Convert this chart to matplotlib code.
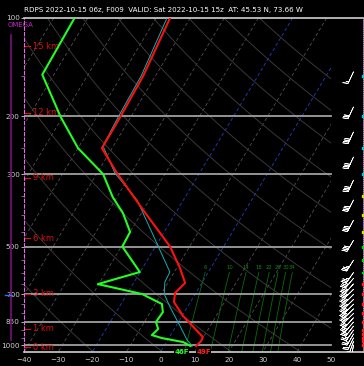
import numpy as np
import matplotlib
matplotlib.use("Agg")
import matplotlib.pyplot as plt
from matplotlib.patches import Rectangle

# sounding (hPa, degC)
temp_p = [100, 150, 200, 250, 298, 386, 500, 582, 646, 693, 739, 815, 945, 972, 1007]
temp_c = [-55.9, -53.6, -53.1, -53.0, -44.2, -30.1, -15.7, -9.0, -4.9, -6.1, -4.8, 0.3, 9.8, 10.0, 9.4]

wetb_p = [100, 150, 200, 246, 298, 360, 488, 598, 642, 698, 765, 875, 965, 1007]
wetb_c = [-56.8, -54.2, -53.7, -53.1, -44.8, -33.6, -20.2, -11.3, -11.0, -9.1, -5.1, 1.2, 5.7, 8.3]

dewp_p = [100, 149, 201, 250, 300, 353, 395, 451, 500, 598, 651, 698, 749, 793, 850, 893, 932, 952, 979, 1007]
dewp_c = [-83.9, -83.4, -70.5, -60.0, -48.1, -41.2, -35.4, -30.0, -29.7, -20.1, -30.3, -15.6, -8.0, -6.3, -6.6, -4.7, -5.5, -2.0, 4.9, 7.8]

wind_p = [146, 187, 223, 266, 313, 360, 415, 478, 550, 600, 625, 650, 675, 700, 725, 750,
          775, 800, 825, 850, 875, 900, 925, 950, 975, 1000]
wind_dir = [205, 205, 205, 205, 205, 207, 208, 210, 212, 215, 220, 222, 225, 225, 225, 225,
            225, 225, 222, 220, 218, 215, 210, 205, 200, 190]
wind_kt = [15, 30, 40, 40, 40, 40, 40, 40, 35, 35, 35, 35, 35, 35, 35, 35,
           35, 35, 30, 30, 30, 25, 25, 20, 15, 10]

dot_p = [150, 200, 250, 300, 350, 400, 450, 500, 550, 600, 650, 700, 750, 800, 850, 900, 925, 950, 975, 1000]
dot_col = ['#00d0d0'] * 4 + ['#e0e000'] * 3 + ['#00e000'] * 3 + ['#ff2020'] * 10

isobars = [200, 300, 500, 700, 850, 1000]
p_labels = [100, 200, 300, 500, 700, 850, 1000]
hgt_km = [0, 1, 3, 6, 9, 12, 15]
hgt_p = [1014, 893, 698, 471, 308, 195, 122]
mix_w = [6, 10, 14, 18, 22, 26, 30, 34]
t_ticks = [-40, -30, -20, -10, 0, 10, 20, 30, 40, 50]

SKEW = 57.5
PBOT = 1050.0


def skew(t, p):
    return np.asarray(t, float) + SKEW * np.log10(PBOT / np.asarray(p, float))


fig = plt.figure(figsize=(3.64, 3.66), dpi=100, facecolor='black')
ax = fig.add_axes([24/364, 14/366, 339/364, 334/366])
ax.set_facecolor('black')
ax.set_yscale('log')
ax.set_ylim(PBOT, 100)
ax.set_xlim(-40, 59.38)

clip = Rectangle((-40, 100), 90, 950, transform=ax.transData, fill=False, visible=False)
ax.add_patch(clip)

pp = np.geomspace(100, PBOT, 120)

# isotherms
for t in range(-110, 60, 10):
    col = '#2040c0' if t in (0, -20) else '#505050'
    ln, = ax.plot(skew(np.full_like(pp, t), pp), pp, color=col, lw=0.6, ls=(0, (4, 3)))
    ln.set_clip_path(clip)

# dry adiabats
for th in range(230, 480, 20):
    tk = th * (pp / 1000.0) ** 0.2857 - 273.15
    ln, = ax.plot(skew(tk, pp), pp, color='#383838', lw=0.7)
    ln.set_clip_path(clip)

# mixing ratio lines
pm = np.geomspace(600, PBOT, 30)
for w in mix_w:
    e = w * pm / (622.0 + w)
    a = np.log(e / 6.112)
    td = 243.5 * a / (17.67 - a)
    ax.plot(skew(td, pm), pm, color='#0a6a0a', lw=0.6)
    ax.text(skew(td[0], 600), 588, str(w), color='#0a8a0a', fontsize=3.8,
            ha='center', va='bottom')

for p in isobars:
    ax.plot([-40, 50], [p, p], color='#a0a0a0', lw=1.3)

ax.plot(skew(temp_c, temp_p), temp_p, color='#ff1010', lw=1.5, zorder=6)
ax.plot(skew(wetb_c, wetb_p), wetb_p, color='#10b0b0', lw=0.7, zorder=5)
ax.plot(skew(dewp_c, dewp_p), dewp_p, color='#20ff20', lw=1.5, zorder=6)

# height labels
for km, p in zip(hgt_km, hgt_p):
    ax.plot([-40, -38.2], [p, p], color='#e01010', lw=0.8, clip_on=False)
    ax.text(-37.4, p, f'{km} km', color='#e01010', fontsize=6, va='center', ha='left')

# wind barbs
wd = np.radians(wind_dir)
u = -np.array(wind_kt) * np.sin(wd)
v = -np.array(wind_kt) * np.cos(wd)
ax.barbs(np.full(len(wind_p), 56.6), wind_p, u, v, length=4.3, color='white',
         linewidth=0.5, pivot='tip', zorder=7)
ax.scatter(np.full(len(dot_p), 59.3), dot_p, s=2, c=dot_col, marker='s', zorder=8, clip_on=False)

# axes styling
for s in ['top', 'bottom']:
    ax.spines[s].set_color('#d0d0d0')
    ax.spines[s].set_linewidth(1.2)
ax.spines['left'].set_color('#e070e0')
ax.spines['left'].set_linestyle((0, (3, 2)))
ax.spines['left'].set_linewidth(0.8)
ax.spines['right'].set_color('#e0a0e0')
ax.spines['right'].set_linestyle((0, (1, 1.5)))
ax.spines['right'].set_linewidth(0.6)

ax.set_yticks(p_labels)
ax.set_yticklabels([str(p) for p in p_labels])
ax.set_yticks(range(150, 1050, 50), minor=True)
ax.yaxis.set_minor_formatter(plt.NullFormatter())
ax.tick_params(axis='y', which='major', colors='#d0d0d0', labelsize=5.2, length=2, width=0.6, pad=1)
ax.tick_params(axis='y', which='minor', colors='#e070e0', length=2, width=0.5)
ax.set_xticks(t_ticks)
ax.tick_params(axis='x', colors='#d0d0d0', labelsize=5.2, length=0, pad=3.5)

# omega strip
fig.add_artist(plt.Line2D([11/364, 11/364], [1 - 35/366, 1 - 340/366], color='#7a107a', lw=1.2))
fig.add_artist(plt.Line2D([5/364, 12/364], [1 - 295/366, 1 - 295/366], color='#3070ff', lw=1.0))
fig.text(8/364, 1 - 25/366, 'OMEGA', color='#c020c0', fontsize=5, va='center', ha='left')

fig.text(24/364, 1 - 10/366, 'RDPS 2022-10-15 06z, F009  VALID: Sat 2022-10-15 15z  AT: 45.53 N, 73.66 W',
         color='white', fontsize=5.15, va='center', ha='left')

# surface values
bb = dict(facecolor='black', edgecolor='none', pad=0.4)
fig.text(181.5/364, 1 - 351.5/366, '46F', color='#20ff20', fontsize=5, fontweight='bold',
         ha='center', va='center', bbox=bb)
fig.text(203.5/364, 1 - 351.5/366, '49F', color='#ff2020', fontsize=5, fontweight='bold',
         ha='center', va='center', bbox=bb)

fig.savefig('out.png', dpi=100, facecolor='black')
